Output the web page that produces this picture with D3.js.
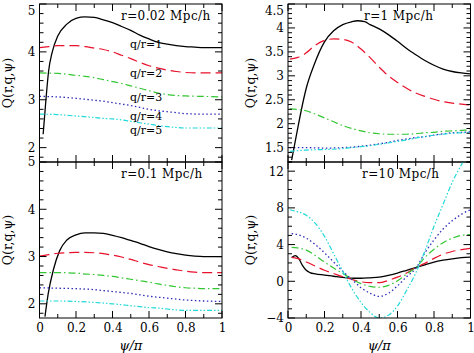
<!DOCTYPE html>
<html lang="en">
<head>
<meta charset="UTF-8">
<title>Q(r,q,psi)</title>
<script src="https://d3js.org/d3.v7.min.js"></script>
<style>
  body { margin: 0; background: #fff; }
  svg { display: block; }
  text { font-family: "DejaVu Serif", serif; fill: #000; }
  .frame { fill: none; stroke: #000; stroke-width: 1; }
  path.curve { fill: none; }
</style>
</head>
<body>
<script>
// ---- data: [psi/pi, Q] ----
// r = 0.02 Mpc/h
var r002_q1 = [[0.02,2.28],[0.035,2.99],[0.05,3.6],[0.07,4.0],[0.1,4.33],[0.15,4.58],[0.2,4.70],[0.25,4.73],[0.3,4.72],[0.35,4.67],[0.4,4.61],[0.45,4.53],[0.5,4.45],[0.55,4.35],[0.6,4.27],[0.65,4.20],[0.7,4.16],[0.75,4.13],[0.8,4.11],[0.85,4.10],[0.9,4.09],[1,4.09]];
var r002_q2 = [[0,4.09],[0.05,4.11],[0.1,4.13],[0.15,4.13],[0.2,4.13],[0.25,4.11],[0.3,4.08],[0.35,4.05],[0.4,4.00],[0.45,3.93],[0.5,3.86],[0.55,3.78],[0.6,3.71],[0.65,3.66],[0.7,3.62],[0.75,3.59],[0.8,3.57],[0.85,3.56],[0.9,3.56],[1,3.56]];
var r002_q3 = [[0,3.56],[0.1,3.55],[0.2,3.51],[0.25,3.49],[0.3,3.46],[0.35,3.42],[0.4,3.38],[0.45,3.34],[0.5,3.29],[0.55,3.24],[0.6,3.19],[0.65,3.14],[0.7,3.11],[0.75,3.09],[0.8,3.08],[0.9,3.07],[1,3.06]];
var r002_q4 = [[0,3.07],[0.1,3.06],[0.2,3.03],[0.3,2.99],[0.35,2.97],[0.4,2.94],[0.45,2.91],[0.5,2.88],[0.55,2.84],[0.6,2.80],[0.65,2.77],[0.7,2.75],[0.75,2.73],[0.8,2.71],[0.9,2.70],[1,2.70]];
var r002_q5 = [[0,2.70],[0.1,2.69],[0.2,2.66],[0.3,2.63],[0.35,2.61],[0.4,2.60],[0.45,2.58],[0.5,2.55],[0.55,2.52],[0.6,2.49],[0.65,2.46],[0.7,2.44],[0.75,2.42],[0.8,2.41],[0.9,2.41],[1,2.41]];

// r = 1 Mpc/h
var r1_q1 = [[0.02,1.24],[0.05,1.84],[0.085,2.5],[0.1,2.74],[0.14,3.2],[0.2,3.71],[0.25,3.94],[0.3,4.07],[0.35,4.13],[0.38,4.15],[0.42,4.13],[0.45,4.07],[0.5,3.98],[0.55,3.86],[0.6,3.72],[0.65,3.57],[0.7,3.44],[0.75,3.32],[0.8,3.22],[0.85,3.14],[0.9,3.09],[0.95,3.06],[1,3.04]];
var r1_q2 = [[0.01,3.35],[0.05,3.38],[0.085,3.44],[0.1,3.48],[0.14,3.61],[0.2,3.74],[0.25,3.77],[0.3,3.76],[0.35,3.70],[0.4,3.56],[0.45,3.38],[0.5,3.18],[0.55,3.0],[0.6,2.86],[0.65,2.74],[0.7,2.64],[0.75,2.57],[0.8,2.51],[0.85,2.46],[0.9,2.43],[0.95,2.41],[1,2.39]];
var r1_q3 = [[0.01,2.31],[0.05,2.30],[0.1,2.27],[0.15,2.20],[0.2,2.12],[0.25,2.04],[0.3,1.96],[0.35,1.90],[0.4,1.85],[0.45,1.81],[0.5,1.79],[0.55,1.78],[0.6,1.78],[0.65,1.78],[0.7,1.79],[0.75,1.81],[0.8,1.82],[0.85,1.84],[0.9,1.85],[0.95,1.86],[1,1.87]];
var r1_q4 = [[0.01,1.50],[0.1,1.50],[0.2,1.49],[0.3,1.50],[0.35,1.51],[0.4,1.53],[0.45,1.55],[0.5,1.58],[0.55,1.61],[0.6,1.65],[0.65,1.68],[0.7,1.71],[0.75,1.73],[0.8,1.76],[0.85,1.79],[0.9,1.81],[0.95,1.82],[1,1.83]];
var r1_q5 = [[0.01,1.42],[0.1,1.45],[0.2,1.46],[0.3,1.48],[0.35,1.50],[0.4,1.52],[0.45,1.54],[0.5,1.57],[0.55,1.60],[0.6,1.63],[0.65,1.66],[0.7,1.70],[0.75,1.73],[0.8,1.76],[0.85,1.78],[0.9,1.80],[0.95,1.81],[1,1.82]];

// r = 0.1 Mpc/h
var r01_q1 = [[0.03,1.73],[0.048,2.22],[0.076,2.72],[0.11,3.12],[0.15,3.35],[0.2,3.46],[0.25,3.50],[0.3,3.50],[0.35,3.49],[0.4,3.45],[0.45,3.40],[0.5,3.34],[0.55,3.28],[0.6,3.21],[0.65,3.15],[0.7,3.10],[0.75,3.06],[0.8,3.03],[0.85,3.01],[0.9,3.00],[1,3.00]];
var r01_q2 = [[0,3.01],[0.05,3.04],[0.1,3.07],[0.15,3.08],[0.2,3.09],[0.25,3.09],[0.3,3.08],[0.35,3.06],[0.4,3.03],[0.45,2.99],[0.5,2.94],[0.55,2.88],[0.6,2.83],[0.65,2.79],[0.7,2.75],[0.75,2.72],[0.8,2.69],[0.85,2.67],[0.9,2.66],[1,2.66]];
var r01_q3 = [[0,2.66],[0.1,2.66],[0.2,2.65],[0.25,2.63],[0.3,2.62],[0.35,2.60],[0.4,2.58],[0.45,2.55],[0.5,2.52],[0.55,2.49],[0.6,2.46],[0.65,2.42],[0.7,2.39],[0.75,2.36],[0.8,2.34],[0.85,2.33],[0.9,2.32],[1,2.32]];
var r01_q4 = [[0,2.34],[0.1,2.33],[0.2,2.32],[0.3,2.30],[0.35,2.28],[0.4,2.26],[0.45,2.24],[0.5,2.22],[0.55,2.19],[0.6,2.16],[0.65,2.14],[0.7,2.12],[0.75,2.10],[0.8,2.08],[0.85,2.07],[0.9,2.06],[1,2.05]];
var r01_q5 = [[0,2.06],[0.1,2.06],[0.2,2.05],[0.3,2.03],[0.4,2.00],[0.45,1.98],[0.5,1.96],[0.55,1.94],[0.6,1.92],[0.65,1.91],[0.7,1.89],[0.75,1.87],[0.8,1.86],[0.9,1.86],[1,1.86]];

// r = 10 Mpc/h
var r10_q1 = [[0.02,2.6],[0.04,2.8],[0.06,2.45],[0.08,1.7],[0.1,1.2],[0.12,0.95],[0.15,0.8],[0.2,0.68],[0.25,0.55],[0.3,0.42],[0.35,0.33],[0.4,0.33],[0.45,0.38],[0.5,0.45],[0.55,0.65],[0.6,0.9],[0.65,1.2],[0.7,1.5],[0.75,1.8],[0.8,2.1],[0.85,2.3],[0.9,2.45],[0.95,2.57],[1,2.63]];
var r10_q2 = [[0.02,2.6],[0.05,2.5],[0.1,2.1],[0.15,1.65],[0.2,1.2],[0.25,0.85],[0.3,0.5],[0.35,0.2],[0.4,-0.05],[0.45,-0.15],[0.5,-0.15],[0.55,0.1],[0.6,0.45],[0.65,0.9],[0.7,1.5],[0.75,1.95],[0.8,2.5],[0.85,2.95],[0.9,3.25],[0.95,3.45],[1,3.6]];
var r10_q3 = [[0.02,3.7],[0.05,3.65],[0.1,3.4],[0.15,2.8],[0.2,2.1],[0.25,1.45],[0.3,0.85],[0.35,0.25],[0.4,-0.25],[0.45,-0.55],[0.5,-0.65],[0.55,-0.45],[0.6,0.05],[0.65,0.8],[0.7,1.5],[0.75,2.6],[0.8,3.5],[0.85,4.2],[0.9,4.7],[0.95,5.0],[1,5.1]];
var r10_q4 = [[0.02,5.2],[0.05,5.1],[0.1,4.7],[0.15,4.0],[0.2,3.1],[0.25,2.1],[0.3,1.1],[0.35,0.2],[0.4,-0.7],[0.45,-1.3],[0.5,-1.65],[0.55,-1.3],[0.6,-0.5],[0.65,0.5],[0.7,1.4],[0.75,3.1],[0.8,4.5],[0.85,5.7],[0.9,6.6],[0.95,7.3],[1,7.8]];
var r10_q5 = [[0.01,7.8],[0.05,7.6],[0.1,7.2],[0.15,6.3],[0.2,4.9],[0.25,3.0],[0.3,1.1],[0.35,-0.8],[0.4,-2.3],[0.45,-3.4],[0.5,-4.0],[0.55,-3.7],[0.6,-2.7],[0.65,-1.0],[0.7,0.9],[0.75,3.3],[0.8,6.0],[0.85,8.4],[0.9,10.8],[0.95,12.7],[1,14.5]];

var seriesNames = ["q/r=1", "q/r=2", "q/r=3", "q/r=4", "q/r=5"];
var xTickValues = [0, 0.2, 0.4, 0.6, 0.8, 1];

// line style per q/r
var styles = [
  { color: "#000000", dash: null,              width: 1.3 },
  { color: "#e8102a", dash: "10,5",            width: 1.2 },
  { color: "#33c633", dash: "7,3,1.5,3",       width: 1.2 },
  { color: "#2d2db8", dash: "1.5,2.5",         width: 1.3 },
  { color: "#22d8d8", dash: "5,2,1.5,2,1.5,2", width: 1.2 }
];

var W = 474, H = 353;
var svg = d3.select("body").append("svg").attr("width", W).attr("height", H);

var panels = [
  { title: "r=0.02 Mpc/h", data: [r002_q1, r002_q2, r002_q3, r002_q4, r002_q5],
    x0: 39.5, x1: 222, y0: 4, y1: 162, dom: [1.7, 5], major: [2, 3, 4, 5], minorStep: 0.2,
    fmt: d => d, titleX: 121, showX: false, labelX: 8, labels: true },
  { title: "r=1 Mpc/h", data: [r1_q1, r1_q2, r1_q3, r1_q4, r1_q5],
    x0: 288, x1: 470.5, y0: 4, y1: 162, dom: [1.2, 4.5], major: [1.5, 2, 2.5, 3, 3.5, 4, 4.5], minorStep: 0.1,
    fmt: d => d, titleX: 364, showX: false, labelX: 251 },
  { title: "r=0.1 Mpc/h", data: [r01_q1, r01_q2, r01_q3, r01_q4, r01_q5],
    x0: 39.5, x1: 222, y0: 162, y1: 318, dom: [1.7, 5], major: [2, 3, 4, 5], minorStep: 0.2,
    fmt: d => d, titleX: 121, showX: true, labelX: 8 },
  { title: "r=10 Mpc/h", data: [r10_q1, r10_q2, r10_q3, r10_q4, r10_q5],
    x0: 288, x1: 470.5, y0: 162, y1: 318, dom: [-4, 13], major: [-4, 0, 4, 8, 12], minorStep: 1,
    fmt: d => d < 0 ? "\u2212" + (-d) : d, titleX: 362, showX: true, labelX: 251 }
];

var labelY = [44, 72.7, 97.3, 116, 130];

panels.forEach(function(p, pi) {
  var x = d3.scaleLinear().domain([0, 1]).range([p.x0, p.x1]);
  var y = d3.scaleLinear().domain(p.dom).range([p.y1, p.y0]);
  var g = svg.append("g");

  var clipId = "clip" + pi;
  svg.append("clipPath").attr("id", clipId).append("rect")
    .attr("x", p.x0).attr("y", p.y0).attr("width", p.x1 - p.x0).attr("height", p.y1 - p.y0);

  var line = d3.line().x(d => x(d[0])).y(d => y(d[1])).curve(d3.curveMonotoneX);

  g.append("g").attr("clip-path", "url(#" + clipId + ")")
    .selectAll("path").data(p.data).enter().append("path")
    .attr("class", "curve")
    .attr("d", line)
    .attr("stroke", (d, i) => styles[i].color)
    .attr("stroke-width", (d, i) => styles[i].width)
    .attr("stroke-dasharray", (d, i) => styles[i].dash);

  // ticks on all four sides, pointing inward
  var xMinor = d3.range(0, 1.0001, 0.1);
  var yMinor = d3.range(Math.ceil(p.dom[0] / p.minorStep) * p.minorStep, p.dom[1] + 1e-6, p.minorStep)
    .map(v => Math.round(v * 100) / 100);
  var isMajorX = v => Math.abs(v * 5 - Math.round(v * 5)) < 1e-6;
  var isMajorY = v => p.major.some(m => Math.abs(m - v) < 1e-6);

  var tickG = g.append("g");
  xMinor.forEach(function(v) {
    var len = isMajorX(v) ? 7 : 4;
    tickG.append("line").attr("x1", x(v)).attr("x2", x(v)).attr("y1", p.y1).attr("y2", p.y1 - len).attr("stroke", "#000");
    tickG.append("line").attr("x1", x(v)).attr("x2", x(v)).attr("y1", p.y0).attr("y2", p.y0 + len).attr("stroke", "#000");
  });
  yMinor.forEach(function(v) {
    var len = isMajorY(v) ? 7 : 4;
    tickG.append("line").attr("x1", p.x0).attr("x2", p.x0 + len).attr("y1", y(v)).attr("y2", y(v)).attr("stroke", "#000");
    tickG.append("line").attr("x1", p.x1).attr("x2", p.x1 - len).attr("y1", y(v)).attr("y2", y(v)).attr("stroke", "#000");
  });

  // y tick labels via axisLeft
  var axL = d3.axisLeft(y).tickValues(p.major).tickSize(0).tickPadding(4).tickFormat(p.fmt);
  var yAx = g.append("g").attr("transform", "translate(" + p.x0 + ",0)").call(axL);
  yAx.select(".domain").remove();
  yAx.selectAll("text").style("font-family", "'DejaVu Serif', serif").style("font-size", "12px");
  // keep the topmost label inside the picture
  yAx.selectAll(".tick").filter(d => y(d) < 8).select("text").attr("dy", "0.9em");

  if (p.showX) {
    var axX = d3.axisBottom(x).tickValues(xTickValues).tickSize(0).tickPadding(5)
      .tickFormat(d => d === 0 ? "0" : d === 1 ? "1" : d3.format(".1f")(d));
    var xAx = g.append("g").attr("transform", "translate(0," + p.y1 + ")").call(axX);
    xAx.select(".domain").remove();
    xAx.selectAll("text").style("font-family", "'DejaVu Serif', serif").style("font-size", "12px");
    g.append("text").attr("x", (p.x0 + p.x1) / 2).attr("y", 350)
      .attr("text-anchor", "middle").style("font-size", "13px").style("font-style", "italic").text("\u03c8/\u03c0");
  }

  g.append("rect").attr("class", "frame")
    .attr("x", p.x0).attr("y", p.y0).attr("width", p.x1 - p.x0).attr("height", p.y1 - p.y0);

  g.append("text").attr("x", p.titleX).attr("y", p.y0 + 16)
    .style("font-size", "12px").style("letter-spacing", "0.4px").text(p.title);

  g.append("text")
    .attr("transform", "translate(" + (p.labelX + 4) + "," + ((p.y0 + p.y1) / 2) + ") rotate(-90)")
    .attr("text-anchor", "middle").style("font-size", "12.5px").text("Q(r,q,\u03c8)");

  if (p.labels) {
    seriesNames.forEach(function(s, i) {
      g.append("text").attr("x", 130).attr("y", labelY[i] + 4)
        .style("font-size", "11px").text(s);
    });
  }
});
</script>
</body>
</html>
